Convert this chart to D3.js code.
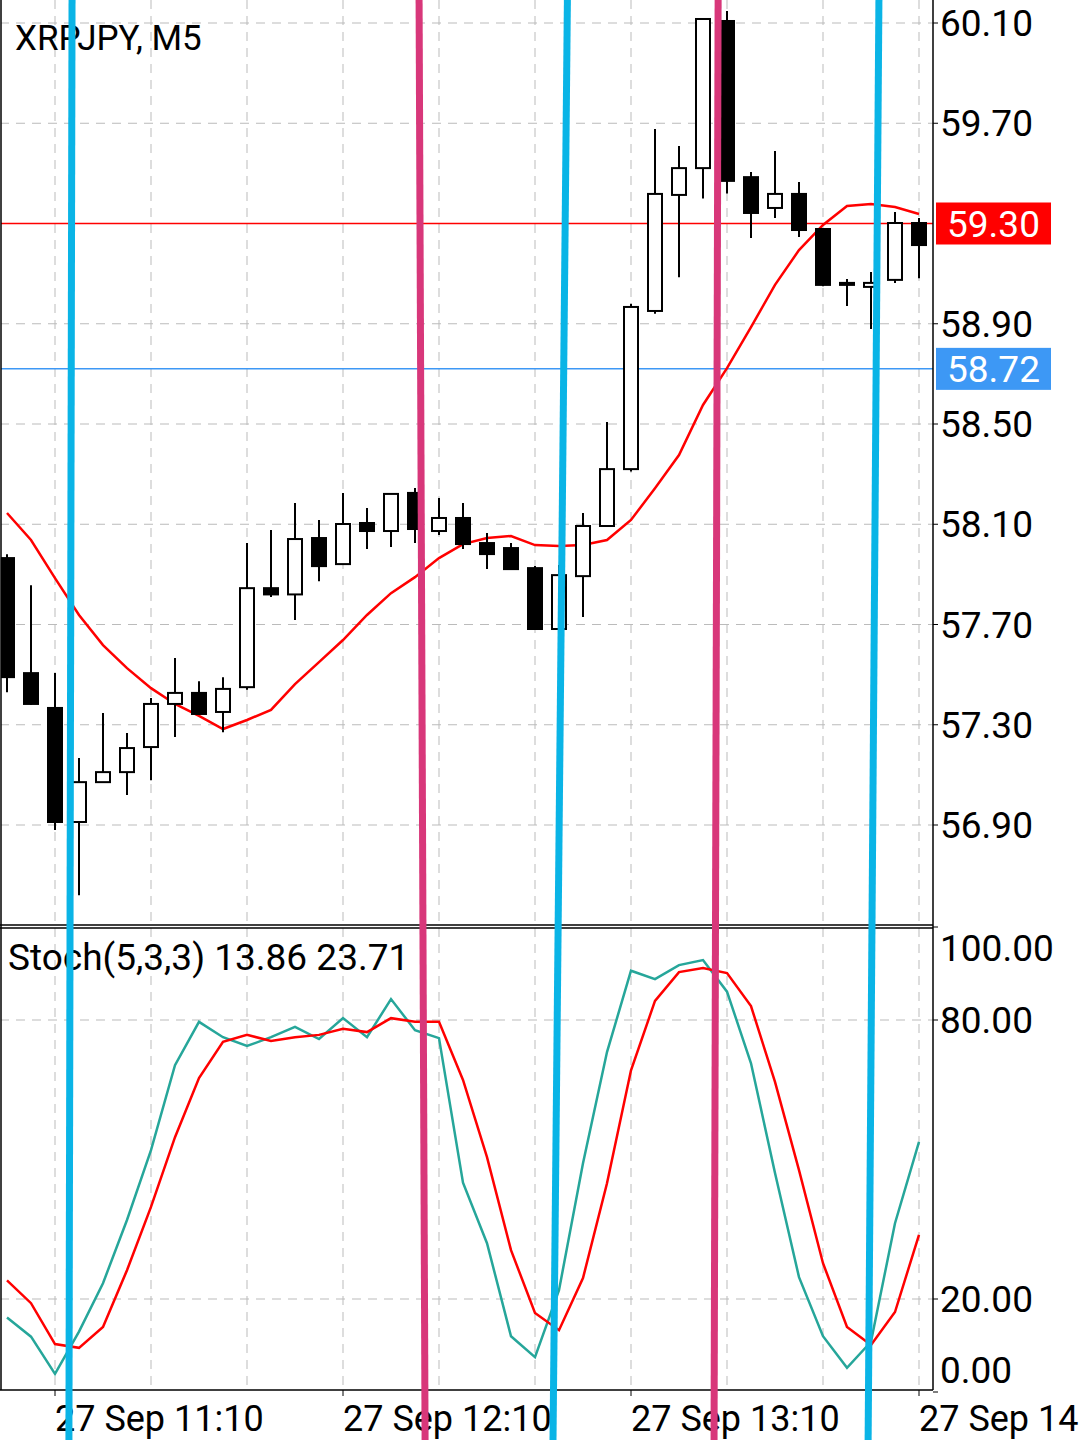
<!DOCTYPE html>
<html><head><meta charset="utf-8">
<script src="https://cdn.jsdelivr.net/npm/d3@7"></script>
<style>body{margin:0;background:#fff}svg{display:block}</style>
</head><body><svg id="c" width="1080" height="1447"></svg>
<script>
// candles, 5 minute bars from 27 Sep 11:00
const opens  = [57.965,57.506,57.367,56.912,57.071,57.111,57.211,57.383,57.427,57.351,57.45,57.845,57.82,58.045,57.941,58.105,58.073,58.225,58.073,58.125,58.025,58.005,57.925,57.682,57.893,58.093,58.32,58.951,59.414,59.521,60.108,59.485,59.362,59.418,59.278,59.063,59.047,59.075,59.302];
const highs  = [57.98,57.857,57.506,57.167,57.347,57.267,57.407,57.566,57.474,57.49,58.025,58.077,58.185,58.117,58.225,58.165,58.225,58.245,58.205,58.185,58.065,58.025,57.933,57.937,58.145,58.508,58.98,59.677,59.609,60.12,60.148,59.505,59.589,59.466,59.28,59.079,59.106,59.346,59.322];
const lows   = [57.43,57.38,56.88,56.62,57.07,57.02,57.079,57.251,57.34,57.27,57.44,57.81,57.718,57.873,57.94,58.001,58.009,58.025,58.057,58.001,57.921,57.92,57.68,57.68,57.73,58.09,58.31,58.94,59.086,59.40,59.42,59.242,59.322,59.246,59.05,58.971,58.879,59.063,59.082];
const closes = [57.49,57.383,56.912,57.071,57.111,57.207,57.383,57.427,57.343,57.443,57.845,57.82,58.041,57.933,58.101,58.073,58.221,58.081,58.125,58.021,57.981,57.921,57.682,57.897,58.093,58.32,58.967,59.418,59.521,60.116,59.47,59.342,59.418,59.274,59.055,59.063,59.063,59.302,59.214];
const maValues = [58.145,58.037,57.885,57.738,57.618,57.526,57.446,57.383,57.335,57.283,57.319,57.359,57.462,57.550,57.638,57.738,57.825,57.889,57.965,58.021,58.045,58.053,58.017,58.013,58.017,58.037,58.117,58.244,58.376,58.576,58.723,58.887,59.055,59.194,59.294,59.370,59.378,59.366,59.338];
const stochMain = [16,11.9,3.9,13,23.4,37,52,70.3,79.6,76.3,74.4,76.3,78.5,75.9,80.4,76.3,84.5,77.8,76.1,45,32,12,7.5,21.9,49.2,73.1,90.6,88.8,91.8,92.9,86.1,70.7,47.1,24.7,12,5.2,10.8,36.3,53.8];
const stochSignal = [24,19.1,10.3,9.5,14,26.2,39.8,54.8,67.5,75.3,76.8,75.5,76.3,76.8,78.1,77.4,80.4,79.6,79.6,67.1,50.5,30.5,17,13.3,24.5,44.9,69.2,84.1,90.3,91.2,90.1,83,66.7,47.7,27.7,14,10.1,17.2,33.8];
const priceTicks = [60.10,59.70,58.90,58.50,58.10,57.70,57.30,56.90];
const stochTicks = [{v:100,y:"100.00"},{v:80,y:"80.00"},{v:20,y:"20.00"},{v:0,y:"0.00"}];
const timeTicks = [{i:2,t:"27 Sep 11:10"},{i:14,t:"27 Sep 12:10"},{i:26,t:"27 Sep 13:10"},{i:38,t:"27 Sep 14:10"}];
const gridIdx = [2,6,10,14,18,22,26,30,34,38];
const levels = [{p:59.30,c:"#ff0000",label:"59.30"},{p:58.72,c:"#3d98f5",label:"58.72"}];
// hand-drawn annotation lines: candle index at top and bottom
const marks = [{a:2.71,b:2.58,c:"#0ab4e6"},{a:23.35,b:22.75,c:"#0ab4e6"},{a:36.33,b:35.88,c:"#0ab4e6"},{a:17.17,b:17.42,c:"#d8377a"},{a:29.63,b:29.46,c:"#d8377a"}];

const svg = d3.select("#c");
const F = "Roboto, 'Noto Sans', sans-serif";
const AX = 933, MAIN_B = 925, ST_T = 928, ST_B = 1390;
const x = d3.scaleLinear().domain([0,1]).range([7,31]);
const y = d3.scaleLinear().domain([56.90,60.10]).range([825,23]);
const ys = d3.scaleLinear().domain([0,100]).range([1392,927]);

svg.append("clipPath").attr("id","cm").append("rect").attr("x",1).attr("y",0).attr("width",AX-1).attr("height",MAIN_B);
svg.append("clipPath").attr("id","cs").append("rect").attr("x",1).attr("y",ST_T).attr("width",AX-1).attr("height",ST_B-ST_T);
const gm = svg.append("g").attr("clip-path","url(#cm)");
const gs = svg.append("g").attr("clip-path","url(#cs)");

// grid
const dash = "9,7";
priceTicks.forEach(p => gm.append("line").attr("x1",0).attr("x2",AX).attr("y1",y(p)).attr("y2",y(p)).attr("stroke","#bbb").attr("stroke-dasharray",dash));
[80,20].forEach(v => gs.append("line").attr("x1",0).attr("x2",AX).attr("y1",ys(v)).attr("y2",ys(v)).attr("stroke","#bbb").attr("stroke-dasharray",dash));
gridIdx.forEach(i => {
  gm.append("line").attr("x1",x(i)).attr("x2",x(i)).attr("y1",0).attr("y2",MAIN_B).attr("stroke","#bbb").attr("stroke-dasharray",dash);
  gs.append("line").attr("x1",x(i)).attr("x2",x(i)).attr("y1",ST_T).attr("y2",ST_B).attr("stroke","#bbb").attr("stroke-dasharray",dash);
});

// level lines
levels.forEach(l => gm.append("line").attr("x1",0).attr("x2",AX).attr("y1",y(l.p)).attr("y2",y(l.p)).attr("stroke",l.c).attr("stroke-width",1.5));

// MA
gm.append("path").datum(maValues).attr("fill","none").attr("stroke","#ff0000").attr("stroke-width",2.5)
  .attr("d",d3.line().x((d,i)=>x(i)).y(d=>y(d)));

// candles
opens.forEach((o,i) => {
  const c = closes[i], cx = x(i), bull = c >= o;
  gm.append("line").attr("x1",cx).attr("x2",cx).attr("y1",y(highs[i])).attr("y2",y(lows[i])).attr("stroke","#000").attr("stroke-width",2);
  const top = y(Math.max(o,c)), h = Math.max(2, Math.abs(y(o)-y(c)));
  gm.append("rect").attr("x",cx-7).attr("y",top).attr("width",14).attr("height",h)
    .attr("fill",bull?"#fff":"#000").attr("stroke","#000").attr("stroke-width",2);
});

// stochastic
const sl = d3.line().x((d,i)=>x(i)).y(d=>ys(d));
gs.append("path").datum(stochMain).attr("fill","none").attr("stroke","#26a69a").attr("stroke-width",2.5).attr("d",sl);
gs.append("path").datum(stochSignal).attr("fill","none").attr("stroke","#ff0000").attr("stroke-width",2.5).attr("d",sl);

// frames
svg.append("line").attr("x1",1).attr("x2",1).attr("y1",0).attr("y2",ST_B).attr("stroke","#000").attr("stroke-width",1.5);
svg.append("line").attr("x1",AX).attr("x2",AX).attr("y1",0).attr("y2",ST_B).attr("stroke","#000").attr("stroke-width",1.5);
svg.append("line").attr("x1",0).attr("x2",AX).attr("y1",MAIN_B).attr("y2",MAIN_B).attr("stroke","#000").attr("stroke-width",1.5);
svg.append("line").attr("x1",0).attr("x2",AX).attr("y1",ST_T).attr("y2",ST_T).attr("stroke","#000").attr("stroke-width",1.5);
svg.append("line").attr("x1",0).attr("x2",AX).attr("y1",ST_B).attr("y2",ST_B).attr("stroke","#000").attr("stroke-width",1.5);

// price axis labels
const FS = 37;
priceTicks.forEach(p => {
  svg.append("line").attr("x1",AX).attr("x2",AX+5).attr("y1",y(p)).attr("y2",y(p)).attr("stroke","#000");
  svg.append("text").attr("x",940).attr("y",y(p)+13).attr("font-family",F).attr("font-size",FS).attr("fill","#000").text(p.toFixed(2));
});
levels.forEach(l => {
  svg.append("rect").attr("x",936).attr("y",y(l.p)-21).attr("width",115).attr("height",42).attr("fill",l.c);
  svg.append("text").attr("x",947).attr("y",y(l.p)+13).attr("font-family",F).attr("font-size",FS).attr("fill","#fff").text(l.label);
});
stochTicks.forEach(s => {
  const ty = Math.min(Math.max(ys(s.v), 948), 1370);
  svg.append("line").attr("x1",AX).attr("x2",AX+5).attr("y1",ys(s.v)).attr("y2",ys(s.v)).attr("stroke","#000");
  svg.append("text").attr("x",940).attr("y",ty+13).attr("font-family",F).attr("font-size",FS).attr("fill","#000").text(s.y);
});

// time axis
timeTicks.forEach(t => {
  svg.append("line").attr("x1",x(t.i)).attr("x2",x(t.i)).attr("y1",ST_B).attr("y2",ST_B+6).attr("stroke","#000");
  svg.append("text").attr("x",x(t.i)).attr("y",1431).attr("font-family",F).attr("font-size",36).attr("fill","#000").text(t.t);
});

// titles
svg.append("text").attr("x",15).attr("y",50).attr("font-family",F).attr("font-size",35).attr("fill","#000").text("XRPJPY, M5");
svg.append("text").attr("x",8).attr("y",970).attr("font-family",F).attr("font-size",37).attr("fill","#000").text("Stoch(5,3,3) 13.86 23.71");

// annotation lines
marks.forEach(m => svg.append("line").attr("x1",x(m.a)).attr("x2",x(m.b)).attr("y1",0).attr("y2",1440)
  .attr("stroke",m.c).attr("stroke-width",7));
</script></body></html>
